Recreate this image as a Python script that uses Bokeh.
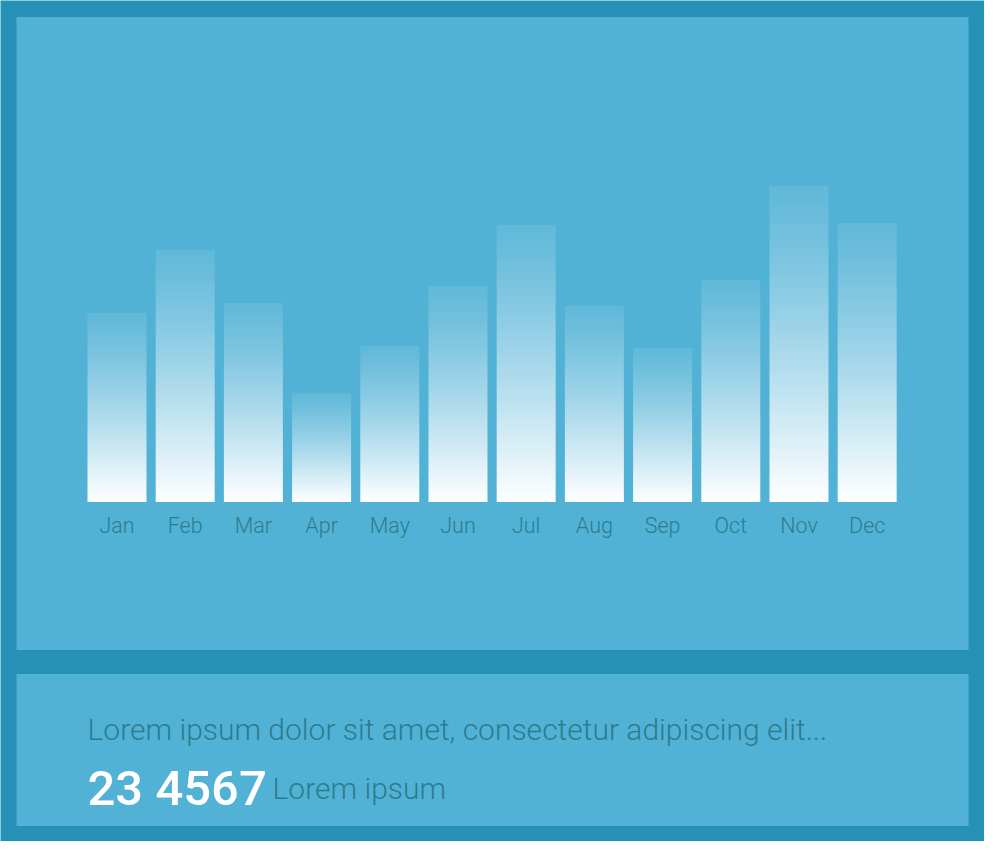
from bokeh.plotting import figure
from bokeh.models import Range1d
from bokeh.core.properties import value
from bokeh.embed import file_html
from bokeh.resources import INLINE

# ---- data ----
months = ["Jan", "Feb", "Mar", "Apr", "May", "Jun",
          "Jul", "Aug", "Sep", "Oct", "Nov", "Dec"]
sales = [189, 252, 199, 109, 156, 216, 277, 196, 154, 222, 316, 279]
caption = "Lorem ipsum dolor sit amet, consectetur adipiscing elit..."
total_text = "23 4567"
total_label = "Lorem ipsum"

# ---- style ----
BORDER = "#2591b5"
PANEL = "#52b2d6"
LABEL = "#2d7c8e"
LIGHT_FONT = "Roboto Light, Roboto"
STEP = 68.2          # pixels per category
X0 = -1.708          # left edge of canvas in category units
SHIFT = 0.5          # half-pixel shift so unit slices fall on pixel rows

p = figure(width=984, height=841, output_backend="svg", toolbar_location=None,
           x_range=Range1d(X0, X0 + 984 / STEP),
           y_range=Range1d(-340 + SHIFT, 501 + SHIFT),
           min_border=0, x_axis_location=None, y_axis_location=None)
p.background_fill_color = BORDER
p.border_fill_color = BORDER
p.outline_line_color = None
p.grid.visible = False


def xu(px):
    return X0 + px / STEP


# panels (layout decoration)
p.quad(left=[xu(16), xu(16)], right=[xu(968), xu(968)],
       top=[485, -172], bottom=[-148, -324],
       fill_color=PANEL, line_color=None)


# gradient bars: each bar is cut into unit-high slices whose white opacity
# fades from the baseline (opaque) to the top of the bar (faint)
def fade(t):
    return 0.09 + 0.91 * (1 - t) ** 1.2


xs, bottoms, tops, alphas = [], [], [], []
for i, v in enumerate(sales):
    for h in range(v):
        xs.append(i)
        bottoms.append(h)
        tops.append(h + 1)
        alphas.append(fade((h + 0.5) / v))
p.vbar(x=xs, bottom=bottoms, top=tops, width=0.865, fill_color="white",
       fill_alpha=alphas, line_color=None)

p.text(x=list(range(len(months))), y=[-23] * len(months), text=months,
       text_font=value(LIGHT_FONT), text_font_size="21.5px", text_color=LABEL,
       text_align="center", text_baseline="middle")

# summary texts
p.text(x=[xu(87)], y=[-227], text=[caption], text_font=value(LIGHT_FONT),
       text_font_size="30px", text_color=LABEL, text_baseline="alphabetic")
p.text(x=[xu(87)], y=[-286], text=[total_text],
       text_font=value("Roboto Medium, Roboto"),
       text_font_size="49px", text_color="white",
       text_baseline="alphabetic")
p.text(x=[xu(272)], y=[-286], text=[total_label], text_font=value(LIGHT_FONT),
       text_font_size="30px", text_color=LABEL, text_baseline="alphabetic")

open("out.html", "w").write(file_html(p, INLINE))
